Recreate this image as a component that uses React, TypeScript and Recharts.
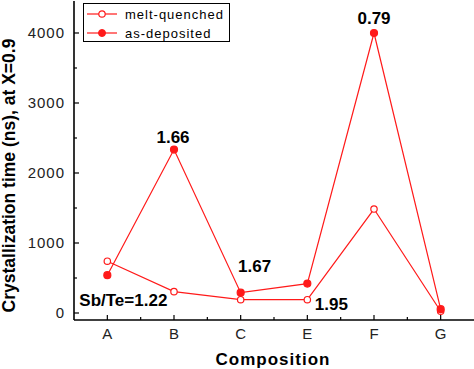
import { LineChart, Line, XAxis, YAxis, LabelList } from "recharts"

const categories = ["A", "B", "C", "E", "F", "G"]
const meltQuenched = [740, 305, 190, 190, 1485, 25]
const asDeposited = [540, 2335, 290, 420, 4000, 55]
const sbTeRatio = ["Sb/Te=1.22", "1.66", "1.67", "1.95", "0.79", ""]
const yTicks = [0, 500, 1000, 1500, 2000, 2500, 3000, 3500, 4000]
const xTicks = [1, 1.5, 2, 2.5, 3, 3.5, 4, 4.5, 5, 5.5, 6]

// label offsets relative to the as-deposited point (center of text)
const labelOffsets = [
  [16, 25],
  [-1, -12],
  [14, -26],
  [24, 21],
  [0, -14],
  [0, 0],
]

const data = categories.map((name, i) => ({
  pos: i + 1,
  name,
  melt: meltQuenched[i],
  dep: asDeposited[i],
  ratio: sbTeRatio[i],
}))

const FONT = "'Liberation Sans', Arial, sans-serif"
const RED = "#ff1a1a"

const XTick = (props: any) => {
  const { x, y, payload } = props
  const major = Number.isInteger(payload.value)
  return (
    <g>
      <line x1={x} x2={x} y1={y} y2={y - (major ? 5 : 3)} stroke="#000" strokeWidth={1.2} />
      {major && (
        <text x={x} y={y + 13} textAnchor="middle" dominantBaseline="central" fontSize={15} fill="#222" fontFamily={FONT}>
          {categories[payload.value - 1]}
        </text>
      )}
    </g>
  )
}

const YTick = (props: any) => {
  const { x, y, payload } = props
  const major = payload.value % 1000 === 0
  return (
    <g>
      <line x1={x} x2={x + (major ? 5 : 3)} y1={y} y2={y} stroke="#000" strokeWidth={1.2} />
      {major && (
        <text x={x - 9} y={y} textAnchor="end" dominantBaseline="central" fontSize={15} letterSpacing={1} fill="#222" fontFamily={FONT}>
          {payload.value}
        </text>
      )}
    </g>
  )
}

const RatioLabel = (props: any) => {
  const { x, y, value, index } = props
  if (!value) return null
  const [dx, dy] = labelOffsets[index]
  return (
    <text x={x + dx} y={y + dy} textAnchor="middle" dominantBaseline="central" fontSize={17} fontWeight="bold" fill="#000" fontFamily={FONT}>
      {value}
    </text>
  )
}

const YLabel = (props: any) => {
  const { viewBox } = props
  const cx = 9
  const cy = viewBox.y + viewBox.height / 2 + 15
  return (
    <text x={cx} y={cy} transform={`rotate(-90, ${cx}, ${cy})`} textAnchor="middle" dominantBaseline="central" fontSize={17.5} fontWeight="bold" fill="#000" fontFamily={FONT}>
      Crystallization time (ns), at X=0.9
    </text>
  )
}

const XLabel = (props: any) => {
  const { viewBox } = props
  return (
    <text x={viewBox.x + viewBox.width / 2 - 1} y={359} textAnchor="middle" dominantBaseline="central" fontSize={17} fontWeight="bold" letterSpacing={1} fill="#000" fontFamily={FONT}>
      Composition
    </text>
  )
}

const LegendBox = () => (
  <svg width={147} height={39} style={{ position: "absolute", left: 83, top: 3, display: "block" }}>
    <rect x={0.5} y={0.5} width={146} height={38} fill="#fff" stroke="#000" strokeWidth={1} />
    <line x1={4} x2={34} y1={11} y2={11} stroke={RED} strokeWidth={1.2} />
    <circle cx={19} cy={11} r={3.2} fill="#fff" stroke={RED} strokeWidth={1.2} />
    <text x={42} y={11} dominantBaseline="central" fontSize={13} letterSpacing={1} fill="#000" fontFamily={FONT}>
      melt-quenched
    </text>
    <line x1={4} x2={34} y1={30} y2={30} stroke={RED} strokeWidth={1.2} />
    <circle cx={19} cy={30} r={3.5} fill={RED} stroke={RED} />
    <text x={42} y={30} dominantBaseline="central" fontSize={13} letterSpacing={1} fill="#000" fontFamily={FONT}>
      as-deposited
    </text>
  </svg>
)

export default function App() {
  return (
    <div style={{ position: "absolute", left: 0, top: 0, width: 474, height: 369, background: "#fff", fontFamily: FONT }}>
      <LineChart width={474} height={369} data={data} margin={{ top: 1, right: 0, bottom: 0, left: 0 }}>
        <XAxis
          dataKey="pos"
          type="number"
          domain={[0.5, 6.5]}
          ticks={xTicks}
          interval={0}
          tick={<XTick />}
          tickLine={false}
          tickSize={0}
          tickMargin={0}
          height={49}
          axisLine={{ stroke: "#000", strokeWidth: 1.6 }}
          label={<XLabel />}
        />
        <XAxis
          xAxisId="top"
          orientation="top"
          dataKey="pos"
          type="number"
          domain={[0.5, 6.5]}
          height={0}
          tick={false}
          tickLine={false}
          axisLine={{ stroke: "#888", strokeWidth: 2 }}
        />
        <YAxis
          type="number"
          domain={[-100, 4457]}
          ticks={yTicks}
          interval={0}
          width={74}
          tick={<YTick />}
          tickLine={false}
          tickSize={0}
          tickMargin={0}
          axisLine={{ stroke: "#000", strokeWidth: 1.6 }}
          label={<YLabel />}
        />
        <Line
          dataKey="melt"
          name="melt-quenched"
          stroke={RED}
          strokeWidth={1.2}
          dot={{ r: 3.2, fill: "#fff", stroke: RED, strokeWidth: 1.2 }}
          isAnimationActive={false}
        />
        <Line
          dataKey="dep"
          name="as-deposited"
          stroke={RED}
          strokeWidth={1.2}
          dot={{ r: 3.5, fill: RED, stroke: RED }}
          isAnimationActive={false}
        >
          <LabelList dataKey="ratio" content={<RatioLabel />} />
        </Line>
      </LineChart>
      <LegendBox />
    </div>
  )
}
